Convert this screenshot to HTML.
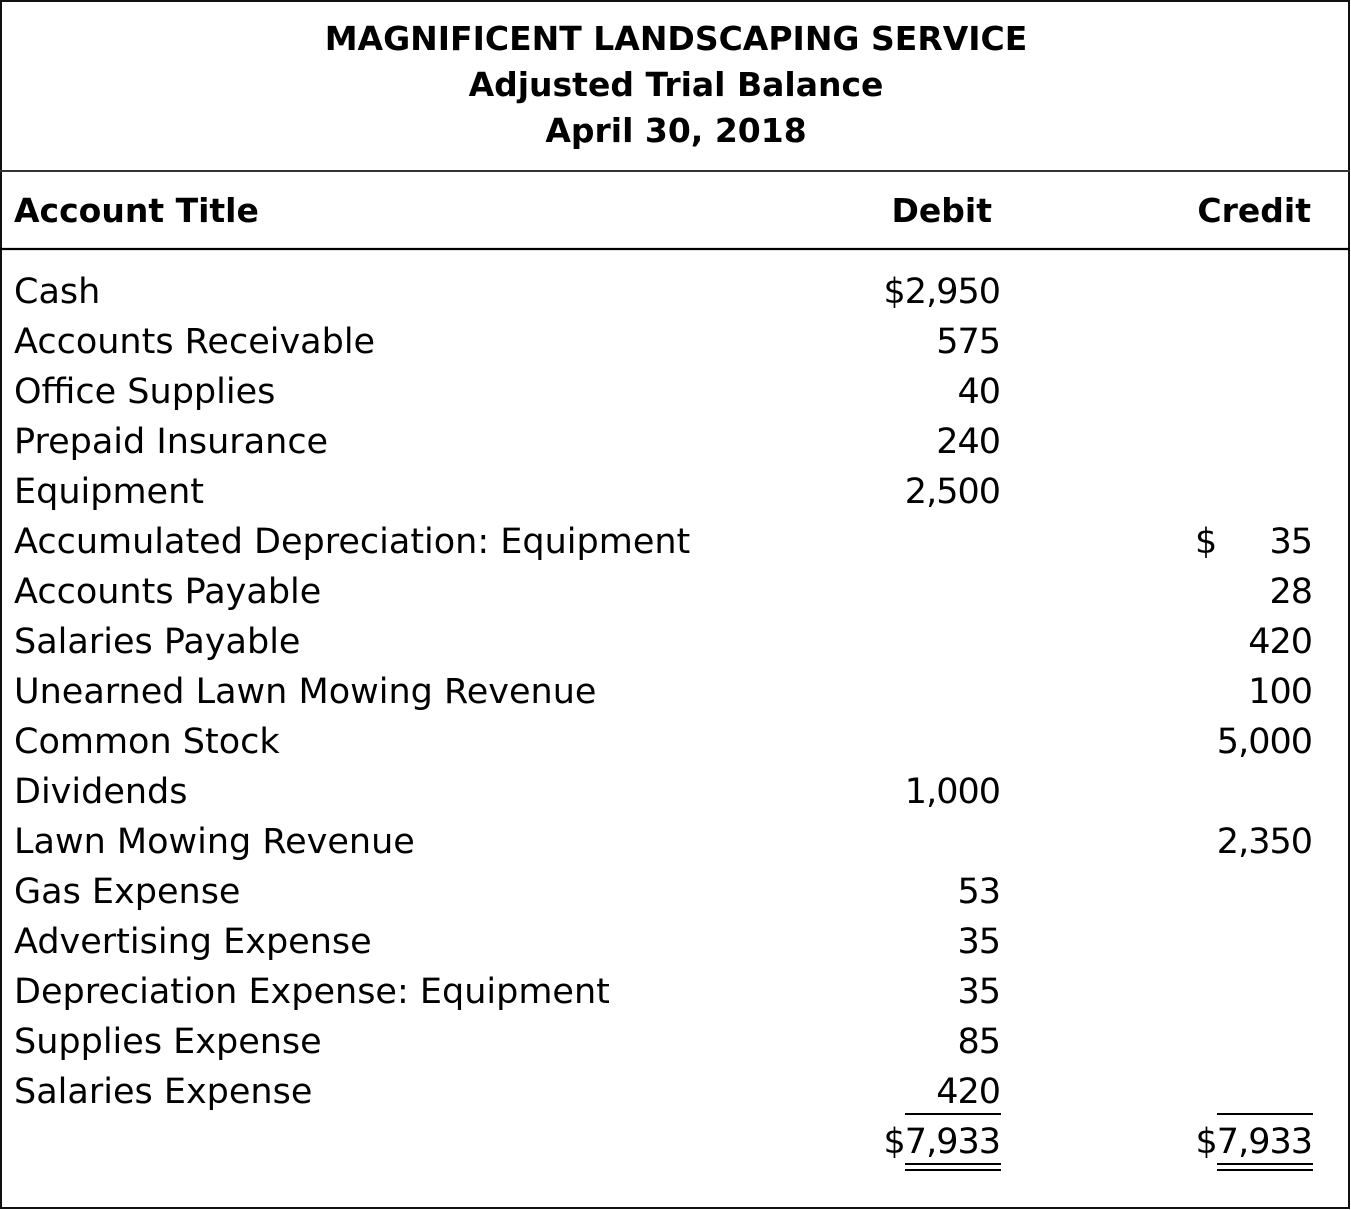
<!DOCTYPE html>
<html>
<head>
<meta charset="utf-8">
<style>
  html, body { margin: 0; padding: 0; background: #fff; }
  body { width: 1351px; height: 1210px; overflow: hidden; }
  svg { display: block; }
  text { font-family: "DejaVu Sans", "Liberation Sans", sans-serif; fill: #000; }
  .t { font-size: 33px; font-weight: bold; }
  .b { font-size: 35px; }
  .n { font-size: 35px; letter-spacing: -1px; }
</style>
</head>
<body>
<svg width="1351" height="1210" viewBox="0 0 1351 1210" xmlns="http://www.w3.org/2000/svg">
  <rect x="0" y="0" width="1351" height="1210" fill="#fff"/>
  <rect x="1" y="1" width="1348" height="1207" fill="none" stroke="#111" stroke-width="2"/>
  <line x1="0" y1="171" x2="1350" y2="171" stroke="#333" stroke-width="2"/>
  <line x1="0" y1="249" x2="1350" y2="249" stroke="#000" stroke-width="2.2"/>

  <text class="t" x="676" y="50" text-anchor="middle">MAGNIFICENT LANDSCAPING SERVICE</text>
  <text class="t" x="676" y="96" text-anchor="middle">Adjusted Trial Balance</text>
  <text class="t" x="676" y="142" text-anchor="middle">April 30, 2018</text>

  <text class="t" x="14" y="222">Account Title</text>
  <text class="t" x="992" y="222" text-anchor="end">Debit</text>
  <text class="t" x="1311" y="222" text-anchor="end">Credit</text>

  <text class="b" x="14" y="303">Cash</text>
  <text class="b" x="14" y="353">Accounts Receivable</text>
  <text class="b" x="14" y="403">Office Supplies</text>
  <text class="b" x="14" y="453">Prepaid Insurance</text>
  <text class="b" x="14" y="503">Equipment</text>
  <text class="b" x="14" y="553">Accumulated Depreciation: Equipment</text>
  <text class="b" x="14" y="603">Accounts Payable</text>
  <text class="b" x="14" y="653">Salaries Payable</text>
  <text class="b" x="14" y="703">Unearned Lawn Mowing Revenue</text>
  <text class="b" x="14" y="753">Common Stock</text>
  <text class="b" x="14" y="803">Dividends</text>
  <text class="b" x="14" y="853">Lawn Mowing Revenue</text>
  <text class="b" x="14" y="903">Gas Expense</text>
  <text class="b" x="14" y="953">Advertising Expense</text>
  <text class="b" x="14" y="1003">Depreciation Expense: Equipment</text>
  <text class="b" x="14" y="1053">Supplies Expense</text>
  <text class="b" x="14" y="1103">Salaries Expense</text>

  <text class="n" x="1000" y="303" text-anchor="end">$2,950</text>
  <text class="n" x="1000" y="353" text-anchor="end">575</text>
  <text class="n" x="1000" y="403" text-anchor="end">40</text>
  <text class="n" x="1000" y="453" text-anchor="end">240</text>
  <text class="n" x="1000" y="503" text-anchor="end">2,500</text>
  <text class="n" x="1000" y="803" text-anchor="end">1,000</text>
  <text class="n" x="1000" y="903" text-anchor="end">53</text>
  <text class="n" x="1000" y="953" text-anchor="end">35</text>
  <text class="n" x="1000" y="1003" text-anchor="end">35</text>
  <text class="n" x="1000" y="1053" text-anchor="end">85</text>
  <text class="n" x="1000" y="1103" text-anchor="end">420</text>
  <text class="n" x="1000" y="1153" text-anchor="end">$7,933</text>

  <text class="n" x="1195" y="553">$</text>
  <text class="n" x="1312" y="553" text-anchor="end">35</text>
  <text class="n" x="1312" y="603" text-anchor="end">28</text>
  <text class="n" x="1312" y="653" text-anchor="end">420</text>
  <text class="n" x="1312" y="703" text-anchor="end">100</text>
  <text class="n" x="1312" y="753" text-anchor="end">5,000</text>
  <text class="n" x="1312" y="853" text-anchor="end">2,350</text>
  <text class="n" x="1312" y="1153" text-anchor="end">$7,933</text>

  <line x1="905" y1="1114" x2="1001" y2="1114" stroke="#000" stroke-width="2"/>
  <line x1="905" y1="1164" x2="1001" y2="1164" stroke="#000" stroke-width="2"/>
  <line x1="905" y1="1170" x2="1001" y2="1170" stroke="#000" stroke-width="2"/>
  <line x1="1217" y1="1114" x2="1313" y2="1114" stroke="#000" stroke-width="2"/>
  <line x1="1217" y1="1164" x2="1313" y2="1164" stroke="#000" stroke-width="2"/>
  <line x1="1217" y1="1170" x2="1313" y2="1170" stroke="#000" stroke-width="2"/>
</svg>
</body>
</html>
